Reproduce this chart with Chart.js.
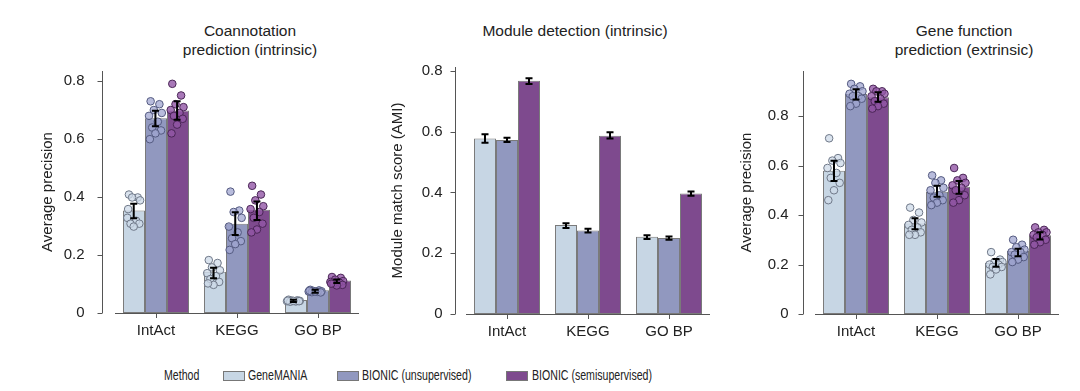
<!DOCTYPE html>
<html>
<head>
<meta charset="utf-8">
<script src="https://cdn.jsdelivr.net/npm/chart.js@4.4.1/dist/chart.umd.min.js"></script>
<style>
  body { margin: 0; width: 1080px; height: 391px; background: #fff; position: relative; overflow: hidden;
         font-family: 'Liberation Sans', Arial, sans-serif; color: #222; }
  canvas { position: absolute; top: 0; }
  .ttl { position: absolute; top: 21px; font-size: 15.5px; line-height: 19px; text-align: center;
         transform: translateX(-50%); white-space: nowrap; }
  .lg { position: absolute; top: 366px; font-size: 14.5px; line-height: 18px; white-space: nowrap;
        transform: scaleX(0.73); transform-origin: 0 50%; }
  .sw { position: absolute; top: 371px; width: 20px; height: 8px; border: 1px solid #777; }
</style>
</head>
<body>
<div class="ttl" style="left:250px">Coannotation<br>prediction (intrinsic)</div>
<div class="ttl" style="left:575px">Module detection (intrinsic)</div>
<div class="ttl" style="left:964px">Gene function<br>prediction (extrinsic)</div>

<canvas id="c1" width="360" height="345" style="left:0"></canvas>
<canvas id="c1o" width="360" height="345" style="left:0"></canvas>
<canvas id="c2" width="360" height="345" style="left:360px"></canvas>
<canvas id="c2o" width="360" height="345" style="left:360px"></canvas>
<canvas id="c3" width="360" height="345" style="left:720px"></canvas>
<canvas id="c3o" width="360" height="345" style="left:720px"></canvas>

<div class="lg" style="left:164px">Method</div>
<div class="sw" style="left:223px;background:#c7d6e4"></div>
<div class="lg" style="left:248px">GeneMANIA</div>
<div class="sw" style="left:337px;background:#9198bf"></div>
<div class="lg" style="left:362px">BIONIC (unsupervised)</div>
<div class="sw" style="left:506px;background:#7e4a8e"></div>
<div class="lg" style="left:532px">BIONIC (semisupervised)</div>

<script>
// categories and methods
const categories = ["IntAct", "KEGG", "GO BP"];
const methods = ["GeneMANIA", "BIONIC (unsupervised)", "BIONIC (semisupervised)"];

// coannotation prediction (average precision)
const coGene = [0.353, 0.142, 0.045];
const coUnsup = [0.671, 0.308, 0.078];
const coSemi = [0.698, 0.356, 0.112];
const coGeneLo = [0.329, 0.123, 0.041], coGeneHi = [0.378, 0.159, 0.049];
const coUnsupLo = [0.644, 0.271, 0.073], coUnsupHi = [0.698, 0.349, 0.083];
const coSemiLo = [0.667, 0.323, 0.106], coSemiHi = [0.730, 0.386, 0.118];
const coGenePts = [
  [0.41, 0.40, 0.40, 0.39, 0.33, 0.32, 0.31, 0.31, 0.30, 0.36],
  [0.185, 0.175, 0.16, 0.15, 0.14, 0.13, 0.12, 0.11, 0.10, 0.105],
  [0.049, 0.047, 0.046, 0.045, 0.044, 0.043, 0.042, 0.044, 0.045, 0.046]
];
const coUnsupPts = [
  [0.73, 0.72, 0.70, 0.69, 0.68, 0.66, 0.64, 0.63, 0.62, 0.60],
  [0.42, 0.355, 0.35, 0.33, 0.30, 0.28, 0.26, 0.25, 0.24, 0.22],
  [0.083, 0.081, 0.079, 0.078, 0.077, 0.076, 0.075, 0.074, 0.077, 0.080]
];
const coSemiPts = [
  [0.79, 0.75, 0.72, 0.71, 0.70, 0.69, 0.68, 0.67, 0.65, 0.62],
  [0.44, 0.41, 0.39, 0.37, 0.36, 0.35, 0.33, 0.31, 0.29, 0.28],
  [0.127, 0.124, 0.118, 0.113, 0.110, 0.108, 0.105, 0.100, 0.098, 0.104]
];

// module detection (AMI)
const mdGene = [0.578, 0.293, 0.254];
const mdUnsup = [0.573, 0.275, 0.250];
const mdSemi = [0.768, 0.587, 0.397];
const mdGeneLo = [0.564, 0.283, 0.247], mdGeneHi = [0.592, 0.299, 0.259];
const mdUnsupLo = [0.566, 0.268, 0.244], mdUnsupHi = [0.580, 0.281, 0.255];
const mdSemiLo = [0.757, 0.578, 0.389], mdSemiHi = [0.776, 0.598, 0.403];

// gene function prediction (average precision)
const gfGene = [0.579, 0.366, 0.207];
const gfUnsup = [0.889, 0.494, 0.255];
const gfSemi = [0.876, 0.514, 0.318];
const gfGeneLo = [0.537, 0.342, 0.191], gfGeneHi = [0.619, 0.387, 0.222];
const gfUnsupLo = [0.867, 0.474, 0.233], gfUnsupHi = [0.908, 0.518, 0.264];
const gfSemiLo = [0.858, 0.486, 0.301], gfSemiHi = [0.896, 0.537, 0.330];
const gfGenePts = [
  [0.71, 0.63, 0.62, 0.61, 0.59, 0.57, 0.55, 0.53, 0.50, 0.46],
  [0.43, 0.41, 0.38, 0.37, 0.36, 0.35, 0.34, 0.33, 0.32, 0.32],
  [0.25, 0.22, 0.21, 0.21, 0.20, 0.20, 0.19, 0.19, 0.18, 0.16]
];
const gfUnsupPts = [
  [0.93, 0.92, 0.91, 0.90, 0.89, 0.88, 0.88, 0.87, 0.85, 0.84],
  [0.56, 0.54, 0.53, 0.51, 0.50, 0.48, 0.47, 0.46, 0.45, 0.44],
  [0.30, 0.28, 0.27, 0.26, 0.25, 0.25, 0.24, 0.23, 0.22, 0.21]
];
const gfSemiPts = [
  [0.91, 0.90, 0.90, 0.89, 0.88, 0.87, 0.86, 0.85, 0.84, 0.83],
  [0.59, 0.55, 0.54, 0.53, 0.52, 0.51, 0.50, 0.48, 0.46, 0.45],
  [0.35, 0.34, 0.33, 0.33, 0.32, 0.32, 0.31, 0.30, 0.29, 0.28]
];

// hand-placed horizontal spread of the dots inside a bar (category units)
const jitter = [-0.06, 0.05, -0.02, 0.08, -0.08, 0.03, -0.04, 0.07, 0.0, -0.07];

const barColors = ["#c7d6e4", "#9198bf", "#7e4a8e"];
const dotFill = ["rgba(205,218,232,0.75)", "rgba(160,166,208,0.75)", "rgba(146,86,166,0.8)"];
const dotEdge = ["#6f7888", "#545a80", "#4a2656"];
const groupPct = 0.815;
const ink = "#222";

Chart.defaults.font.family = "'Liberation Sans', Arial, sans-serif";
Chart.defaults.font.size = 15;
Chart.defaults.color = ink;

// offset y axis line with ticks (main chart)
const yLine = {
  id: "yLine",
  afterDraw(chart, args, opts) {
    const ctx = chart.ctx, y = chart.scales.y, a = chart.chartArea;
    const x = Math.round(a.left - opts.gap) + 0.5;
    ctx.save();
    ctx.strokeStyle = "#555";
    ctx.lineWidth = 1;
    ctx.beginPath();
    ctx.moveTo(x, a.top); ctx.lineTo(x, y.getPixelForValue(0));
    y.ticks.forEach(t => {
      const py = Math.round(y.getPixelForValue(t.value)) + 0.5;
      ctx.moveTo(x - 5, py); ctx.lineTo(x, py);
    });
    ctx.stroke();
    ctx.restore();
  }
};

// error bars (overlay chart, drawn after the dots)
const errBars = {
  id: "errBars",
  afterDatasetsDraw(chart, args, opts) {
    const ctx = chart.ctx, x = chart.scales.x, y = chart.scales.y;
    ctx.save();
    ctx.strokeStyle = "#000";
    ctx.lineWidth = 2;
    opts.lo.forEach((lo, j) => {
      const shift = (j - 1) * groupPct / 3;
      lo.forEach((v, i) => {
        const px = x.getPixelForValue(i + shift);
        const y1 = y.getPixelForValue(v), y2 = y.getPixelForValue(opts.hi[j][i]);
        ctx.beginPath();
        ctx.moveTo(px, y1); ctx.lineTo(px, y2);
        ctx.moveTo(px - 3.5, y1); ctx.lineTo(px + 3.5, y1);
        ctx.moveTo(px - 3.5, y2); ctx.lineTo(px + 3.5, y2);
        ctx.stroke();
      });
    });
    ctx.restore();
  }
};

function makePanel(id, p) {
  const means = [p.gene, p.unsup, p.semi];
  const pad = { top: p.top, left: p.left, right: p.right, bottom: 0 };

  new Chart(document.getElementById(id), {
    type: "bar",
    data: {
      labels: categories,
      datasets: means.map((m, j) => ({
        label: methods[j], data: m,
        backgroundColor: barColors[j], borderColor: "#7a7a7a", borderWidth: 1, borderSkipped: false,
        categoryPercentage: groupPct, barPercentage: 1
      }))
    },
    options: {
      responsive: false, animation: false, devicePixelRatio: 1,
      layout: { padding: pad },
      plugins: { legend: { display: false }, tooltip: { enabled: false }, yLine: { gap: p.gap } },
      scales: {
        x: {
          offset: true,
          grid: { display: true, drawOnChartArea: false, drawTicks: true, tickLength: 5, color: "#555", offset: false },
          border: { display: true, color: "#555", width: 1 },
          ticks: { padding: 4, color: ink },
          afterFit: s => { s.height = 31; }
        },
        y: {
          min: 0, max: p.yMax,
          grid: { display: false }, border: { display: false },
          ticks: { stepSize: 0.2, includeBounds: false, padding: p.tickPad, color: ink },
          title: { display: true, text: p.yTitle, padding: 0, color: ink, font: { size: 15 } },
          afterFit: s => { s.width = p.yWidth; }
        }
      }
    },
    plugins: [yLine]
  });

  // dots + error bars on a transparent twin with the same plot area
  const dots = (p.pts || []).map((series, j) => {
    const shift = (j - 1) * groupPct / 3;
    const pts = [];
    series.forEach((vals, i) => vals.forEach((v, k) => pts.push({ x: i + shift + jitter[k], y: v })));
    return {
      data: pts, pointRadius: 3.8,
      pointBackgroundColor: dotFill[j], pointBorderColor: dotEdge[j], pointBorderWidth: 1
    };
  });
  new Chart(document.getElementById(id + "o"), {
    type: "scatter",
    data: { datasets: dots },
    options: {
      responsive: false, animation: false, devicePixelRatio: 1,
      layout: { padding: pad },
      plugins: {
        legend: { display: false }, tooltip: { enabled: false },
        errBars: { lo: [p.geneLo, p.unsupLo, p.semiLo], hi: [p.geneHi, p.unsupHi, p.semiHi] }
      },
      scales: {
        x: {
          type: "linear", min: -0.5, max: 2.5, offset: false,
          grid: { display: false }, border: { display: false }, ticks: { display: false },
          afterFit: s => { s.height = 31; }
        },
        y: {
          min: 0, max: p.yMax,
          grid: { display: false }, border: { display: false }, ticks: { display: false },
          afterFit: s => { s.width = p.yWidth; }
        }
      }
    },
    plugins: [errBars]
  });
}

makePanel("c1", {
  gene: coGene, unsup: coUnsup, semi: coSemi,
  geneLo: coGeneLo, geneHi: coGeneHi, unsupLo: coUnsupLo, unsupHi: coUnsupHi, semiLo: coSemiLo, semiHi: coSemiHi,
  pts: [coGenePts, coUnsupPts, coSemiPts],
  yMax: 0.834, yTitle: "Average precision",
  top: 71, left: 39, right: 1.5, yWidth: 76.5, tickPad: 23, gap: 13.5
});
makePanel("c2", {
  gene: mdGene, unsup: mdUnsup, semi: mdSemi,
  geneLo: mdGeneLo, geneHi: mdGeneHi, unsupLo: mdUnsupLo, unsupHi: mdUnsupHi, semiLo: mdSemiLo, semiHi: mdSemiHi,
  yMax: 0.813, yTitle: "Module match score (AMI)",
  top: 67, left: 29, right: 10.5, yWidth: 77.5, tickPad: 16, gap: 12
});
makePanel("c3", {
  gene: gfGene, unsup: gfUnsup, semi: gfSemi,
  geneLo: gfGeneLo, geneHi: gfGeneHi, unsupLo: gfUnsupLo, unsupHi: gfUnsupHi, semiLo: gfSemiLo, semiHi: gfSemiHi,
  pts: [gfGenePts, gfUnsupPts, gfSemiPts],
  yMax: 0.982, yTitle: "Average precision",
  top: 71, left: 18, right: 21.5, yWidth: 77.5, tickPad: 19, gap: 12.5
});
</script>
</body>
</html>
